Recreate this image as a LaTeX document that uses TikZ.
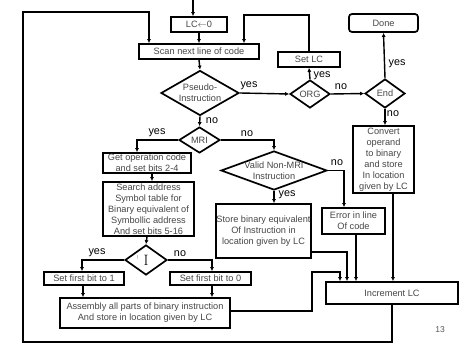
\documentclass[tikz,border=0pt]{standalone}
\usepackage{fontspec}
\setmainfont{Liberation Sans}
\usetikzlibrary{shapes.geometric,arrows.meta}
\begin{document}
\begin{tikzpicture}[x=1pt,y=-1pt,
  boxtext/.style={font=\fontsize{9.2}{10.9}\selectfont, text=black!72},
  box/.style={draw, line width=1.7pt, rectangle, inner sep=0pt, align=center, boxtext},
  dia/.style={draw, line width=1.7pt, diamond, inner sep=0pt},
  lbl/.style={font=\fontsize{10.8}{12}\selectfont, text=black},
  arr/.style={line width=1.4pt, -{Latex[length=4pt,width=4pt]}},
  ln/.style={line width=1.4pt}]
\useasboundingbox (0,0) rectangle (474,355);
\fill[white] (0,0) rectangle (474,355);

% boxes
\node[box, minimum width=56pt, minimum height=15pt] (lc) at (199,24.5) {LC$\leftarrow$0};
\node[box, minimum width=120pt, minimum height=15pt] (scan) at (199,51.5) {Scan next line of code};
\node[box, minimum width=62pt, minimum height=15pt] (setlc) at (309,59.5) {Set LC};
\node[box, rounded corners=3pt, minimum width=69pt, minimum height=18pt] (done) at (383.5,23) {Done};
\node[box, minimum width=61pt, minimum height=67pt] (convert) at (383.5,159.5) {Convert\\operand\\to binary\\and store\\In location\\given by LC};
\node[box, minimum width=88pt, minimum height=20pt] (getop) at (147,163) {Get operation code\\and set bits 2-4};
\node[box, minimum width=91pt, minimum height=54pt] (search) at (148.5,209) {Search address\\Symbol table for\\Binary equivalent of\\Symbollic address\\And set bits 5-16};
\node[box, minimum width=95pt, minimum height=54pt] (store) at (263.5,231) {Store binary equivalent\\Of Instruction in\\location given by LC};
\node[box, minimum width=63pt, minimum height=26pt] (error) at (353.5,221) {Error in line\\Of code};
\node[box, minimum width=132pt, minimum height=22pt] (incr) at (392,293) {Increment LC};
\node[box, minimum width=80pt, minimum height=13pt] (set1) at (84,278.5) {Set first bit to 1};
\node[box, minimum width=81pt, minimum height=13pt] (set0) at (210.5,278.5) {Set first bit to 0};
\node[box, minimum width=170pt, minimum height=30pt] (asm) at (145,313) {Assembly all parts of binary instruction\\And store in location given by LC};

% diamonds
\node[dia, minimum width=78pt, minimum height=45pt] (pseudo) at (200,93) {};
\node[boxtext, align=center] (pseudot) at (pseudo.center) {Pseudo-\\Instruction};
\node[dia, minimum width=40pt, minimum height=28pt] (org) at (310,94) {};
\node[boxtext] (orgt) at (org.center) {ORG};
\node[dia, minimum width=40pt, minimum height=29pt] (endd) at (385,93.5) {};
\node[boxtext] (endt) at (endd.center) {End};
\node[dia, minimum width=41pt, minimum height=26pt] (mri) at (199.5,140) {};
\node[boxtext] (mrit) at (mri.center) {MRI};
\node[dia, minimum width=106pt, minimum height=39pt] (valid) at (274,170.5) {};
\node[boxtext, align=center] (validt) at (valid.center) {Valid Non-MRI\\Instruction};
\node[dia, minimum width=42pt, minimum height=30pt] (idia) at (146,260) {};
\node[font=\fontfamily{lmr}\fontsize{15}{15}\selectfont, text=black] (it) at (idia.center) {I};
\node[font=\fontsize{4}{4}\selectfont, text=black!60] (ipar) at (137.5,257) {(};

% connectors
\coordinate (start) at (193,0);
\draw[arr] (start) -- (193,0 |- lc.north);
\draw[arr] (lc.south) -- (scan.north);
\draw[arr] (scan.south) -- (pseudo.north);
\draw[arr] (pseudo.east) -- (org.west);
\draw[arr] (org.north) -- (setlc.south);
\draw[arr] (setlc.north) -- (309,15) -- (244,15) -- (244,0 |- scan.north);
\draw[arr] (org.east) -- (endd.west);
\draw[arr] (endd.north) -- (done.south);
\draw[arr] (endd.south) -- (385,0 |- convert.north);
\draw[arr] (393,0 |- convert.south) -- (393,0 |- incr.north);
\draw[arr] (pseudo.south) -- (mri.north);
\draw[arr] (mri.west) -- (137,140) -- (137,0 |- getop.north);
\draw[arr] (mri.east) -- (274,140) -- (valid.north);
\draw[arr] (152,0 |- getop.south) -- (152,0 |- search.north);
\draw[arr] (valid.south) -- (274,0 |- store.north);
\draw[arr] (valid.east) -- (344,170.5) -- (344,0 |- error.north);
\draw[arr] (356,0 |- error.south) -- (356,0 |- incr.north);
\draw[arr] (store.east |- 0,252) -- (347,252) -- (347,0 |- incr.north);
\draw[arr] (147,0 |- search.south) -- (idia.north);
\draw[arr] (idia.west) -- (82,260) -- (82,0 |- set1.north);
\draw[arr] (idia.east) -- (212,260) -- (212,0 |- set0.north);
\draw[arr] (83,0 |- set1.south) -- (83,0 |- asm.north);
\draw[arr] (212,0 |- set0.south) -- (212,0 |- asm.north);
\draw[arr] (asm.east |- 0,311) -- (312,311) -- (312,272) -- (340,272) -- (340,0 |- incr.north);
\draw[arr] (incr.south) -- (392,342) -- (23,342) -- (23,12) -- (149,12) -- (149,0 |- scan.north);

% labels
\node[lbl] (l1) at (249,86) {yes};
\node[lbl] (l2) at (322,76) {yes};
\node[lbl] (l3) at (341,87) {no};
\node[lbl] (l4) at (397,64) {yes};
\node[lbl] (l5) at (393,114) {no};
\node[lbl] (l6) at (212,121) {no};
\node[lbl] (l7) at (157,133) {yes};
\node[lbl] (l8) at (247,134) {no};
\node[lbl] (l9) at (287,195) {yes};
\node[lbl] (l10) at (337,163) {no};
\node[lbl] (l11) at (97,253) {yes};
\node[lbl] (l12) at (180,254) {no};
\node[font=\fontsize{8.5}{10}\selectfont, text=black!65] (pg) at (440,330) {13};
\end{tikzpicture}
\end{document}
